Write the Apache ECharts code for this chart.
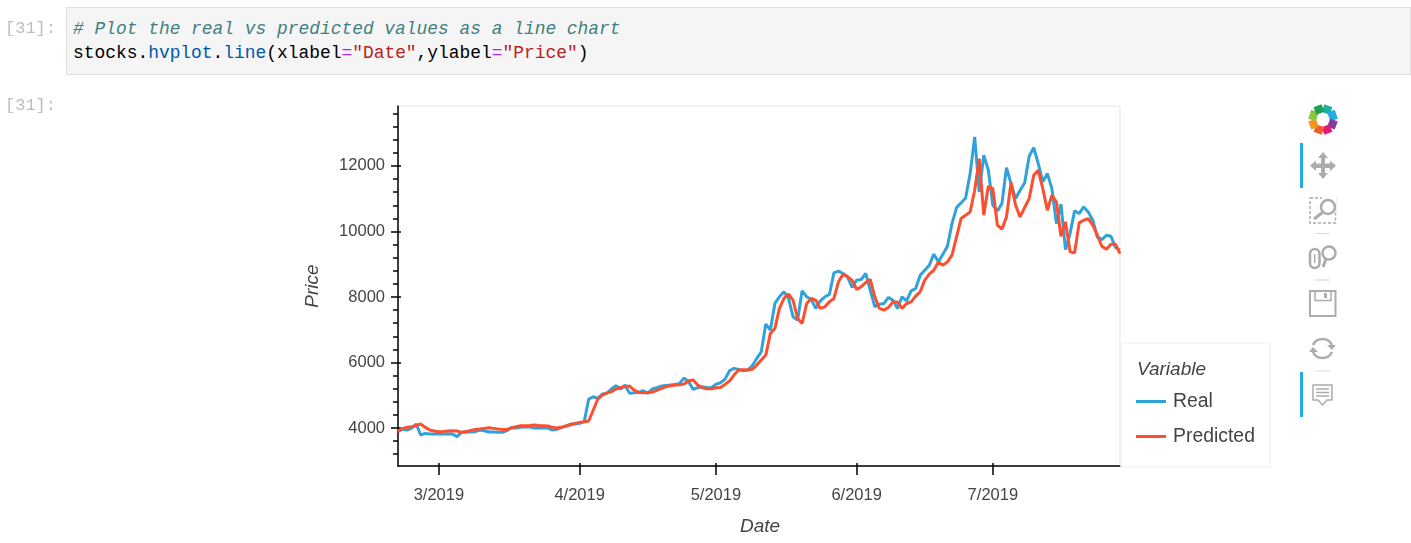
<!DOCTYPE html>
<html>
<head>
<meta charset="utf-8">
<script src="https://cdn.jsdelivr.net/npm/echarts@6/dist/echarts.min.js"></script>
<style>
    html, body { margin: 0; padding: 0; background: #fff; overflow: hidden; }
    #chart { position: absolute; left: 0; top: 0; width: 1411px; height: 543px; }
    .prompt { position: absolute; left: 5px; font: 17px/24px "Liberation Mono", monospace; color: #bdbdbd; }
    #cell {
        position: absolute; left: 66px; top: 7px; width: 1345px; height: 68px; box-sizing: border-box;
        background: #f5f5f5; border: 1px solid #e0e0e0; padding: 9px 0 0 6px;
        font: 17.9px/24px "Liberation Mono", monospace; color: #000; white-space: pre;
    }
    .c { color: #408080; font-style: italic; }
    .n { color: #0055aa; }
    .o { color: #aa22ff; }
    .s { color: #ba2121; }
    #tools { position: absolute; left: 1295px; top: 100px; }
</style>
</head>
<body>
<div id="chart"></div>
<div class="prompt" style="top:17px">[31]:</div>
<div class="prompt" style="top:94px">[31]:</div>
<div id="cell"><span class="c"># Plot the real vs predicted values as a line chart</span>
stocks.<span class="n">hvplot</span>.<span class="n">line</span>(xlabel<span class="o">=</span><span class="s">"Date"</span>,ylabel<span class="o">=</span><span class="s">"Price"</span>)</div>

<svg id="tools" width="60" height="325" viewBox="1295 100 60 325">
    <!-- logo -->
    <g fill="none" stroke-width="8">
        <path d="M1323 108 L1331 111" stroke="#1fb0a0"/>
        <path d="M1331 111 L1334 120" stroke="#26aae1"/>
        <path d="M1334 120 L1331 128" stroke="#7b3fa0"/>
        <path d="M1331 128 L1323 131" stroke="#e6186f"/>
        <path d="M1323 131 L1315 128" stroke="#f15a29"/>
        <path d="M1315 128 L1312 120" stroke="#f7941e"/>
        <path d="M1312 120 L1315 111" stroke="#8dc63f"/>
        <path d="M1315 111 L1323 108" stroke="#1c9e58"/>
    </g>
    <!-- active bars -->
    <rect x="1300" y="143" width="3" height="45" fill="#26aae1"/>
    <rect x="1300" y="372" width="3" height="45" fill="#26aae1"/>
    <!-- pan -->
    <g fill="#a9adae">
        <path d="M1323 152 L1328 158 L1325 158 L1325 163.5 L1330 163.5 L1330 160.5 L1336 165.7 L1330 171 L1330 168 L1325 168 L1325 173 L1328 173 L1323 179 L1318 173 L1321 173 L1321 168 L1316 168 L1316 171 L1310 165.7 L1316 160.5 L1316 163.5 L1321 163.5 L1321 158 L1318 158 Z"/>
    </g>
    <!-- box zoom -->
    <rect x="1310" y="198" width="25.5" height="25" fill="none" stroke="#a9adae" stroke-width="1.5" stroke-dasharray="3 2"/>
    <rect x="1322" y="196" width="14" height="14" fill="#fff"/>
    <circle cx="1328" cy="207" r="7" fill="#fff" stroke="#a9adae" stroke-width="2.5"/>
    <path d="M1323 212 L1314 219" stroke="#a9adae" stroke-width="3"/>
    <line x1="1315" y1="233.5" x2="1330" y2="233.5" stroke="#ddd"/>
    <!-- wheel zoom -->
    <rect x="1310" y="249" width="9.5" height="19" rx="4.7" fill="none" stroke="#a9adae" stroke-width="2.5"/>
    <path d="M1314.7 254 L1314.7 263" stroke="#a9adae" stroke-width="1.5"/>
    <circle cx="1329" cy="253" r="6.5" fill="#fff" stroke="#a9adae" stroke-width="2.5"/>
    <path d="M1326 259 L1323 267" stroke="#a9adae" stroke-width="3"/>
    <line x1="1315" y1="280" x2="1330" y2="280" stroke="#d5d5d5"/>
    <!-- save -->
    <rect x="1310" y="291" width="25.5" height="25" fill="none" stroke="#a9adae" stroke-width="2"/>
    <rect x="1315" y="291" width="16" height="9.5" fill="none" stroke="#a9adae" stroke-width="1.5"/>
    <rect x="1324" y="293" width="3" height="5" fill="#a9adae"/>
    <!-- reset -->
    <g fill="none" stroke="#a9adae" stroke-width="2.5">
        <path d="M1313 345 A10.5 10.5 0 0 1 1332 345"/>
        <path d="M1332 352 A10.5 10.5 0 0 1 1313 352"/>
    </g>
    <path d="M1327 345 L1336 345 L1332 350 Z M1309 352 L1318 352 L1313 347 Z" fill="#a9adae"/>
    <line x1="1315" y1="371" x2="1330" y2="371" stroke="#ddd"/>
    <!-- hover -->
    <path d="M1313 385 L1332 385 L1332 400 L1327 400 L1322.5 405 L1318 400 L1313 400 Z" fill="none" stroke="#a9adae" stroke-width="1.5" stroke-linejoin="round"/>
    <path d="M1316 389 H1329 M1316 392.5 H1329 M1316 396 H1329" stroke="#a9adae" stroke-width="1.5"/>
</svg>

<script>
    // daily values, 20 Feb to 29 Jul 2019
    const startDate = Date.UTC(2019, 1, 20)
    const endDate = Date.UTC(2019, 6, 29)
    const realValues = [
        3918, 3958, 3938, 3999, 4121, 3786, 3836, 3816, 3816,
        3816, 3816, 3826, 3816, 3735, 3867, 3887, 3877, 3887, 3938, 3918, 3877, 3877, 3867, 3867, 3918, 4020, 3999, 4020, 4040, 4030, 3999, 3999, 4009, 3999, 3938, 3958, 4020, 4060, 4121, 4121,
        4141, 4192, 4884, 4955, 4904, 5036, 5057, 5189, 5291, 5189, 5311, 5057, 5077, 5087, 5138, 5057, 5189, 5230, 5281, 5301, 5311, 5331, 5362, 5525, 5413, 5179, 5230, 5260, 5240, 5230,
        5331, 5382, 5484, 5748, 5820, 5789, 5748, 5770, 5900, 6120, 6327, 7172, 6990, 7803, 8007, 8158, 7955, 7396, 7295, 8188, 8006, 7925, 7650, 7884, 8006, 8077, 8738, 8790, 8717, 8615, 8290,
        8514, 8534, 8717, 8208, 7700, 7780, 7800, 7985, 7900, 7650, 8006, 7884, 8188, 8260, 8666, 8819, 8971, 9306, 9072, 9306, 9550, 10241, 10730, 10872, 11024, 11767, 12885, 11207, 12326, 11868,
        10801, 10628, 10851, 11950, 11462, 11004, 11258, 11482, 12296, 12560, 12072, 11513, 11767, 11309, 10241, 10831, 9448, 9936, 10628, 10546, 10750, 10597, 10343, 9835, 9753, 9885, 9855, 9509, 9428
    ]
    const predictedValues = [
        3887, 3989, 4020, 4040, 4080, 4121, 4020, 3938, 3908,
        3887, 3897, 3908, 3918, 3908, 3867, 3887, 3928, 3958, 3968, 3989, 4009, 3989, 3968, 3958, 3958, 3999, 4040, 4070, 4070, 4080, 4091, 4080, 4070, 4060, 4020, 3999, 4020, 4060, 4101, 4141,
        4172, 4192, 4213, 4548, 4884, 5006, 5077, 5108, 5189, 5240, 5260, 5281, 5159, 5087, 5077, 5087, 5097, 5148, 5209, 5260, 5291, 5311, 5321, 5342, 5443, 5464, 5311, 5230, 5199, 5199,
        5230, 5240, 5331, 5433, 5616, 5769, 5779, 5769, 5790, 5920, 6073, 6226, 6887, 7040, 7650, 7955, 8087, 7900, 7345, 7192, 7800, 7955, 7900, 7650, 7700, 7850, 7955, 8464, 8697, 8615, 8514,
        8229, 8310, 8442, 8534, 8006, 7650, 7600, 7680, 7850, 7850, 7650, 7800, 7850, 8026, 8158, 8514, 8695, 8818, 9072, 8970, 9072, 9275, 9835, 10394, 10496, 10597, 11258, 12224, 10496, 11380,
        11309, 10190, 10068, 10445, 11492, 10801, 10445, 10730, 11004, 11716, 11868, 11309, 10648, 11106, 10902, 9855, 10292, 9377, 9346, 10262, 10343, 10394, 10190, 9885, 9550, 9458, 9611, 9611, 9326
    ]
    const monthTicks = [Date.UTC(2019, 2, 1), Date.UTC(2019, 3, 1), Date.UTC(2019, 4, 1), Date.UTC(2019, 5, 1), Date.UTC(2019, 6, 1)]
    const priceTicks = [4000, 6000, 8000, 10000, 12000]
    const minorPriceTicks = [3200, 3600, 4400, 4800, 5200, 5600, 6400, 6800, 7200, 7600, 8400, 8800, 9200, 9600, 10400, 10800, 11200, 11600, 12400, 12800, 13200, 13600]
    const yMin = 2840
    const yMax = 13830

    const dayMs = 24 * 3600 * 1000
    const toPairs = values => values.map((v, i) => [startDate + i * dayMs, v])

    const labelFont = 'Liberation Sans'
    const axisBlack = { show: true, onZero: false, lineStyle: { color: '#000', width: 1.5 } }

    // the extra axes only draw the tick parts that the main axes cannot (inside stubs, minor ticks)
    function extraY(values, inside, length) {
        return {
            type: 'value', min: yMin, max: yMax, position: 'left',
            axisLine: { show: false }, axisLabel: { show: false }, splitLine: { show: false },
            axisTick: { show: true, inside: inside, length: length, customValues: values, lineStyle: { color: '#000', width: 1.5 } }
        }
    }

    let myChart = echarts.init(document.getElementById('chart'), null, { renderer: 'canvas' })
    myChart.setOption({
        animation: false,
        grid: { show: true, left: 398, top: 106, width: 722, height: 360, borderColor: '#e5e5e5', borderWidth: 1, backgroundColor: '#fff' },
        xAxis: [
            {
                // dates kept as timestamps on a value axis, the ticks sit on the month starts
                type: 'value', min: startDate, max: endDate,
                name: 'Date', nameLocation: 'middle', nameGap: 51, nameTextStyle: { fontFamily: labelFont, fontSize: 19, fontStyle: 'italic', color: '#444', padding: [0, 0, 0, 2] },
                axisLine: axisBlack,
                axisTick: { show: true, length: 9, customValues: monthTicks, lineStyle: { color: '#000', width: 1.5 } },
                axisLabel: {
                    customValues: monthTicks, margin: 21, fontFamily: labelFont, fontSize: 16.5, color: '#444',
                    formatter: v => (new Date(v).getUTCMonth() + 1) + '/2019'
                },
                splitLine: { show: false }
            },
            {
                type: 'value', min: startDate, max: endDate, position: 'bottom',
                axisLine: { show: false }, axisLabel: { show: false }, splitLine: { show: false },
                axisTick: { show: true, inside: true, length: 3, customValues: monthTicks, lineStyle: { color: '#000', width: 1.5 } }
            }
        ],
        yAxis: [
            {
                type: 'value', min: yMin, max: yMax,
                name: 'Price', nameLocation: 'middle', nameGap: 76,
                nameTextStyle: { fontFamily: labelFont, fontSize: 19, fontStyle: 'italic', color: '#444' },
                axisLine: axisBlack,
                axisTick: { show: true, length: 7, customValues: priceTicks, lineStyle: { color: '#000', width: 1.5 } },
                axisLabel: { customValues: priceTicks, margin: 13, fontFamily: labelFont, fontSize: 16.5, color: '#444', formatter: v => String(v) },
                splitLine: { show: false }
            },
            extraY(priceTicks, true, 3),
            extraY(minorPriceTicks, false, 5)
        ],
        legend: {
            orient: 'vertical', left: 1136, top: 392, padding: 0,
            icon: 'rect', itemWidth: 30, itemHeight: 3, itemGap: 16,
            textStyle: { fontFamily: labelFont, fontSize: 19.4, color: '#444', padding: [0, 0, 0, 2] },
            data: ['Real', 'Predicted']
        },
        graphic: [
            { type: 'rect', z: 1, shape: { x: 1121, y: 343, width: 149, height: 124 }, style: { fill: '#fff', stroke: '#eeeeee', lineWidth: 1 } },
            { type: 'text', z: 2, x: 1137, y: 360, style: { text: 'Variable', fontFamily: labelFont, fontSize: 19, fontStyle: 'italic', fill: '#444' } }
        ],
        series: [
            { name: 'Real', type: 'line', showSymbol: false, symbol: 'none', data: toPairs(realValues), lineStyle: { color: '#30a2da', width: 3 }, itemStyle: { color: '#30a2da' } },
            { name: 'Predicted', type: 'line', showSymbol: false, symbol: 'none', data: toPairs(predictedValues), lineStyle: { color: '#fc4f30', width: 3 }, itemStyle: { color: '#fc4f30' } }
        ]
    })
</script>
</body>
</html>
